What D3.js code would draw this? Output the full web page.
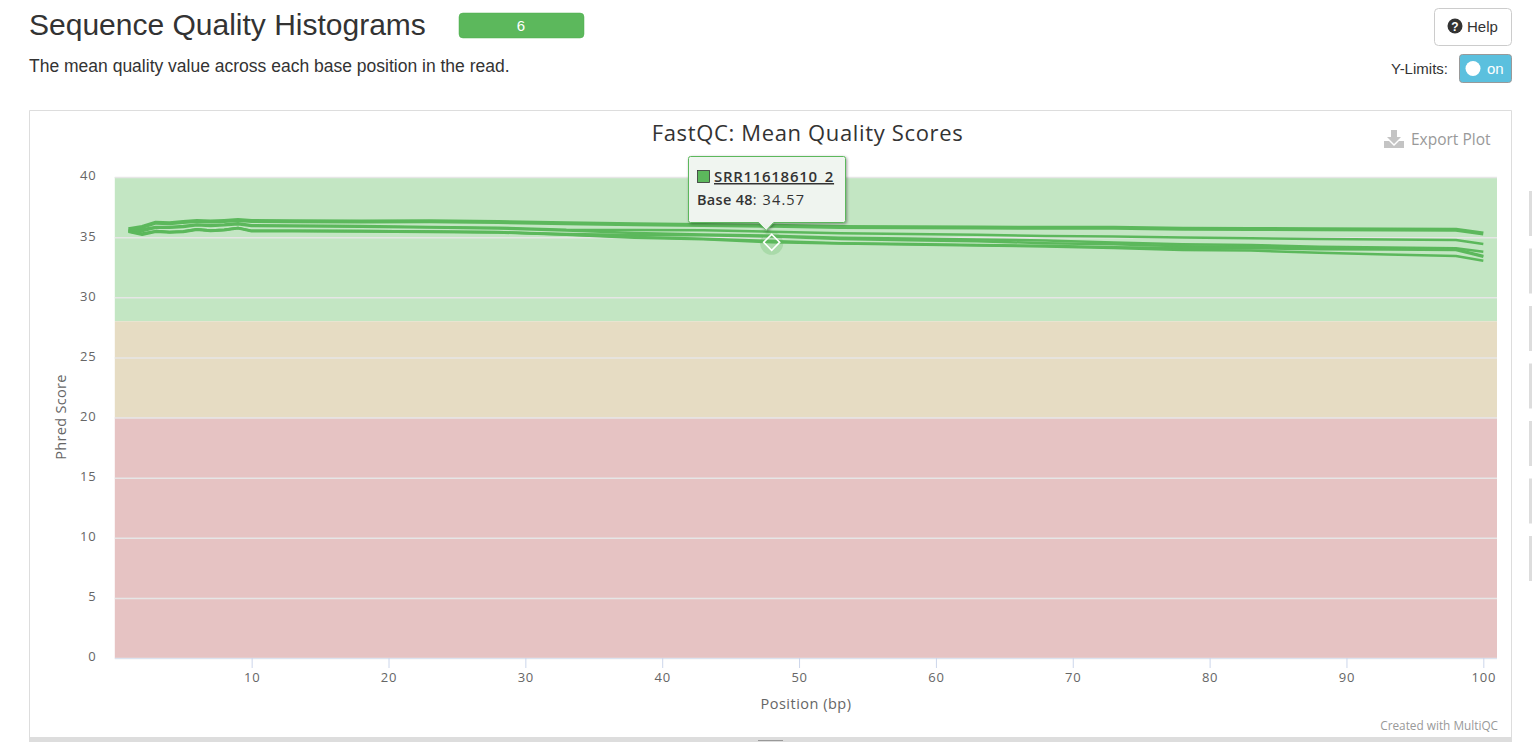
<!DOCTYPE html>
<html>
<head>
<meta charset="utf-8">
<title>Sequence Quality Histograms</title>
<script src="https://cdn.jsdelivr.net/npm/d3@7"></script>
<style>
  html, body { margin: 0; padding: 0; background: #fff; overflow: hidden; }
  svg { display: block; }
  .page { font-family: "Liberation Sans", Arial, sans-serif; fill: #333; }
  .chartfont { font-family: "Open Sans", sans-serif; }
  .noskip { text-decoration-skip-ink: none; }
</style>
</head>
<body>
<svg id="root" width="1532" height="742"></svg>
<script>
// Read positions (bp) shared by every sample
const positions = [1,2,3,4,5,6,7,8,9,10,13,18,23,28,33,38,43,48,53,58,63,68,73,78,83,88,93,98,100];

// Mean Phred score per position
const sampleA = [35.65,35.85,36.20,36.15,36.25,36.35,36.30,36.35,36.42,36.35,36.33,36.30,36.32,36.25,36.15,36.07,36.00,35.95,35.84,35.82,35.80,35.78,35.77,35.70,35.68,35.65,35.63,35.62,35.30];
const sampleB = [35.60,35.65,35.85,35.85,35.92,36.05,35.98,36.05,36.15,35.98,35.96,35.92,35.85,35.78,35.62,35.60,35.58,35.45,35.32,35.25,35.20,35.10,35.05,34.97,34.90,34.85,34.80,34.76,34.43];
const sampleC = [35.55,35.50,35.78,35.78,35.85,35.98,35.92,35.98,36.08,35.92,35.90,35.86,35.80,35.72,35.55,35.35,35.22,35.12,34.95,34.88,34.80,34.72,34.55,34.40,34.35,34.20,34.13,34.07,33.78];
const sampleD = [35.50,35.30,35.50,35.42,35.46,35.65,35.55,35.62,35.77,35.54,35.52,35.50,35.46,35.40,35.25,35.18,35.15,35.05,34.85,34.75,34.65,34.50,34.40,34.25,34.20,34.10,34.05,34.00,33.43];
const sampleE = [35.48,35.25,35.50,35.42,35.48,35.65,35.55,35.62,35.77,35.52,35.52,35.50,35.46,35.42,35.22,35.02,34.87,34.68,34.50,34.42,34.35,34.28,34.15,34.10,34.08,34.00,33.98,33.93,33.37];
const sampleF = [35.45,35.20,35.45,35.38,35.42,35.62,35.50,35.58,35.74,35.48,35.48,35.46,35.43,35.38,35.20,34.95,34.82,34.57,34.47,34.38,34.30,34.22,34.10,33.92,33.88,33.70,33.55,33.43,33.04];

const sampleSeries = [sampleA, sampleB, sampleC, sampleD, sampleE, sampleF];
const lineWidths = [4, 2.5, 2.5, 2.5, 2.5, 2.5];

// Quality zones behind the lines
const zones = [
  { from: 28, to: 40, color: "#c3e6c3" },
  { from: 20, to: 28, color: "#e6dcc3" },
  { from: 0,  to: 20, color: "#e6c3c3" }
];
const yTicks = [0, 5, 10, 15, 20, 25, 30, 35, 40];
const xTicks = [10, 20, 30, 40, 50, 60, 70, 80, 90, 100];

const hoverName = "SRR11618610_2";
const hoverBase = 48;
const hoverValue = 34.57;

const sideTabs = [0, 1, 2, 3, 4, 5, 6];
const green = "#5cb85c";

const svg = d3.select("#root");

// Soft drop shadow for the hover box
const shadow = svg.append("defs").append("filter")
  .attr("id", "boxShadow").attr("x", "-10%").attr("y", "-10%").attr("width", "125%").attr("height", "130%");
shadow.append("feDropShadow").attr("dx", 1).attr("dy", 1).attr("stdDeviation", 1.6)
  .attr("flood-color", "#000").attr("flood-opacity", 0.4);

// ---- Section header ----
const head = svg.append("g").attr("class", "page");
head.append("text").attr("x", 29).attr("y", 35).attr("font-size", 30).attr("fill", "#333")
  .text("Sequence Quality Histograms");
head.append("rect").attr("x", 459).attr("y", 13).attr("width", 125).attr("height", 25).attr("rx", 4)
  .attr("fill", green).attr("stroke", "#4cae4c").attr("stroke-width", 0.5);
head.append("text").attr("x", 521).attr("y", 31).attr("text-anchor", "middle").attr("font-size", 15)
  .attr("fill", "#fff").text("6");
head.append("text").attr("x", 29).attr("y", 72).attr("font-size", 17.5).attr("fill", "#333")
  .text("The mean quality value across each base position in the read.");

// Help button
head.append("rect").attr("x", 1434.5).attr("y", 8.5).attr("width", 77).attr("height", 37).attr("rx", 4)
  .attr("fill", "#fff").attr("stroke", "#ccc");
head.append("circle").attr("cx", 1455).attr("cy", 26).attr("r", 7.5).attr("fill", "#333");
head.append("text").attr("x", 1455).attr("y", 30.5).attr("text-anchor", "middle").attr("font-size", 12)
  .attr("font-weight", "bold").attr("fill", "#fff").text("?");
head.append("text").attr("x", 1467).attr("y", 32).attr("font-size", 15).attr("fill", "#333").text("Help");

// Y-limits toggle
head.append("text").attr("x", 1391).attr("y", 74).attr("font-size", 15).attr("fill", "#333").text("Y-Limits:");
head.append("rect").attr("x", 1459.5).attr("y", 54.5).attr("width", 52).attr("height", 28).attr("rx", 3)
  .attr("fill", "#5bc0de").attr("stroke", "#999");
head.append("circle").attr("cx", 1473).attr("cy", 68.5).attr("r", 7.5).attr("fill", "#fff");
head.append("text").attr("x", 1487).attr("y", 74).attr("font-size", 15).attr("fill", "#fff").text("on");

// ---- Plot card ----
svg.append("path").attr("d", "M29.5,742V110.5H1511.5V742").attr("fill", "none").attr("stroke", "#ddd");
svg.append("rect").attr("x", 30).attr("y", 737).attr("width", 1481).attr("height", 5).attr("fill", "#ddd");
svg.append("rect").attr("x", 758).attr("y", 740).attr("width", 25).attr("height", 1).attr("fill", "#999");

// Tabs at the window's right edge
svg.append("g").selectAll("rect").data(sideTabs).join("rect")
  .attr("x", 1529).attr("width", 3).attr("height", 45)
  .attr("y", d => 191 + d * 57.5).attr("fill", "#ddd");

// ---- Scales ----
const x = d3.scaleLinear().domain([0, 101]).range([114.8, 1497]);
const y = d3.scaleLinear().domain([0, 40]).range([658, 177]);

const plot = svg.append("g").attr("class", "chartfont");

plot.append("text").attr("x", 807.5).attr("y", 141).attr("text-anchor", "middle")
  .attr("font-size", 22).attr("letter-spacing", 0.65).attr("fill", "#333").text("FastQC: Mean Quality Scores");

// Zones
plot.append("g").selectAll("rect").data(zones).join("rect")
  .attr("x", x(0)).attr("width", x(101) - x(0))
  .attr("y", d => y(d.to)).attr("height", d => y(d.from) - y(d.to))
  .attr("fill", d => d.color);

// Y axis with full-width grid lines
const yAxis = plot.append("g").attr("transform", `translate(${x(0)},0)`)
  .call(d3.axisLeft(y).tickValues(yTicks).tickSize(-(x(101) - x(0))).tickPadding(18.5));
yAxis.select(".domain").remove();
yAxis.selectAll(".tick line").attr("stroke", "#e6e6e6").attr("stroke-width", 1.5);
yAxis.selectAll(".tick text").attr("font-family", "Open Sans").attr("font-size", 13).attr("fill", "#666")
  .attr("dy", "0.22em").attr("letter-spacing", 0.7);

// X axis
const xAxis = plot.append("g").attr("transform", `translate(0,${y(0)})`)
  .call(d3.axisBottom(x).tickValues(xTicks).tickSize(10).tickPadding(5));
xAxis.select(".domain").attr("stroke", "#dbe3f0").attr("d", `M${x(0)},0.5H${x(101)}`);
xAxis.selectAll(".tick line").attr("stroke", "#ccd6eb");
xAxis.selectAll(".tick text").attr("font-family", "Open Sans").attr("font-size", 13).attr("fill", "#666")
  .attr("letter-spacing", 0.7);

// Axis titles
plot.append("text").attr("x", 806).attr("y", 709).attr("text-anchor", "middle")
  .attr("font-size", 14.5).attr("letter-spacing", 0.5).attr("fill", "#666").text("Position (bp)");
plot.append("text").attr("transform", "translate(66,417) rotate(-90)").attr("text-anchor", "middle")
  .attr("font-size", 14.5).attr("letter-spacing", 0.3).attr("fill", "#666").text("Phred Score");

// Sample lines
const line = d3.line().x((d, i) => x(positions[i])).y(d => y(d));
plot.append("g").selectAll("path").data(sampleSeries).join("path")
  .attr("d", line).attr("fill", "none").attr("stroke", green)
  .attr("stroke-width", (d, i) => lineWidths[i]).attr("stroke-linejoin", "round");

// Hovered point: halo and white diamond outline
const hx = x(hoverBase), hy = y(hoverValue);
plot.append("circle").attr("cx", hx).attr("cy", hy + 1).attr("r", 11.5).attr("fill", green).attr("opacity", 0.25);
plot.append("path").attr("d", d3.symbol(d3.symbolSquare, 128)())
  .attr("transform", `translate(${hx},${hy}) rotate(45)`)
  .attr("fill", "none").attr("stroke", "#fff").attr("stroke-width", 1.6);

// Hover box with its pointer
const bx = 688.5, by = 156.5, bw = 157, bh = 66;
const tip = plot.append("g");
tip.append("path")
  .attr("d", `M${bx + 2},${by}H${bx + bw - 2}Q${bx + bw},${by} ${bx + bw},${by + 2}V${by + bh - 2}Q${bx + bw},${by + bh} ${bx + bw - 2},${by + bh}H${hx + 2}L${hx - 5.5},${by + bh + 8}L${hx - 13},${by + bh}H${bx + 2}Q${bx},${by + bh} ${bx},${by + bh - 2}V${by + 2}Q${bx},${by} ${bx + 2},${by}Z`)
  .attr("fill", "#f2f6f2").attr("fill-opacity", 0.97).attr("stroke", green).attr("filter", "url(#boxShadow)");
tip.append("rect").attr("x", 697.5).attr("y", 170.5).attr("width", 12).attr("height", 12)
  .attr("fill", green).attr("stroke", "#333").attr("stroke-width", 0.8);
tip.append("text").attr("class", "noskip").attr("x", 714).attr("y", 182).attr("font-size", 15).attr("letter-spacing", 0.7).attr("font-weight", 600)
  .attr("fill", "#333").attr("text-decoration", "underline").text(hoverName);
const tipValue = tip.append("text").attr("x", 697).attr("y", 205).attr("font-size", 14.5).attr("fill", "#333");
tipValue.append("tspan").attr("font-weight", 600).attr("letter-spacing", 0.3).text(`Base ${hoverBase}`);
tipValue.append("tspan").attr("letter-spacing", 1.1).text(`: ${hoverValue}`);

// Export control
const exportG = plot.append("g");
exportG.append("path")
  .attr("d", "M1391,130h6v7h4l-7,7l-7,-7h4zM1384,141h5l5,5l5,-5h5v7h-20z")
  .attr("fill", "#c4c4c4");
exportG.append("text").attr("x", 1411).attr("y", 145).attr("font-size", 15.5).attr("fill", "#999")
  .text("Export Plot");

plot.append("text").attr("x", 1498).attr("y", 730).attr("text-anchor", "end")
  .attr("font-size", 11.8).attr("fill", "#999").text("Created with MultiQC");
</script>
</body>
</html>
